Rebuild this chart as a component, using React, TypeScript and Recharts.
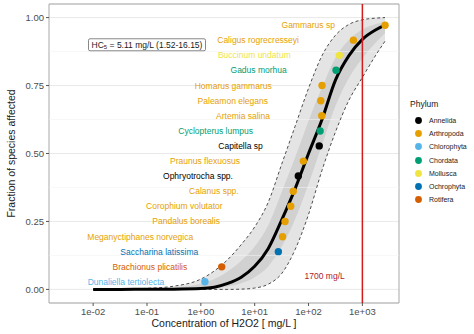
import React from "react";
import {
  ComposedChart,
  Area,
  Line,
  Scatter,
  XAxis,
  YAxis,
  CartesianGrid,
  ReferenceLine,
  ReferenceArea,
  ReferenceDot,
} from "recharts";

// species sorted from most to least sensitive (bottom to top of the curve)
const species = [
  "Dunaliella tertiolecta",
  "Brachionus plicatilis",
  "Saccharina latissima",
  "Meganyctiphanes norvegica",
  "Pandalus borealis",
  "Corophium volutator",
  "Calanus spp.",
  "Ophryotrocha spp.",
  "Praunus flexuosus",
  "Capitella sp",
  "Cyclopterus lumpus",
  "Artemia salina",
  "Paleamon elegans",
  "Homarus gammarus",
  "Gadus morhua",
  "Buccinum undatum",
  "Caligus rogrecresseyi",
  "Gammarus sp",
];
const phylumOf = [
  "Chlorophyta",
  "Rotifera",
  "Ochrophyta",
  "Arthropoda",
  "Arthropoda",
  "Arthropoda",
  "Arthropoda",
  "Annelida",
  "Arthropoda",
  "Annelida",
  "Chordata",
  "Arthropoda",
  "Arthropoda",
  "Arthropoda",
  "Chordata",
  "Mollusca",
  "Arthropoda",
  "Arthropoda",
];
// toxicity value per species, mg/L
const toxicity = [1.19, 2.44, 27.5, 33, 36.6, 46.7, 52, 64.6, 80, 158, 164, 176, 169, 178, 324, 373, 681, 2640];
const fraction = [0.028, 0.083, 0.139, 0.194, 0.25, 0.306, 0.361, 0.417, 0.472, 0.528, 0.583, 0.639, 0.694, 0.75, 0.806, 0.861, 0.917, 0.972];
// where each species name ends (mg/L)
const labelAt = [0.209, 0.558, 0.895, 0.72, 2.26, 2.54, 5.05, 3.95, 5.33, 14.1, 9.3, 19.2, 17.7, 20.7, 39.4, 46.7, 66.5, 309];

const phyla = ["Annelida", "Arthropoda", "Chlorophyta", "Chordata", "Mollusca", "Ochrophyta", "Rotifera"];
const phylumColors = ["#000000", "#E69F00", "#56B4E9", "#009E73", "#F0E442", "#0072B2", "#D55E00"];

const curveExp = [-2, -1.5, -1, -0.5, 0, 0.25, 0.5, 0.75, 1, 1.25, 1.5, 1.75, 2, 2.25, 2.5, 2.75, 3, 3.25, 3.42];
const fitted = [0, 0, 0.0005, 0.001, 0.003, 0.008, 0.022, 0.045, 0.085, 0.15, 0.255, 0.37, 0.5, 0.625, 0.77, 0.86, 0.92, 0.955, 0.972];
const upperBand = [0, 0.001, 0.004, 0.012, 0.038, 0.068, 0.11, 0.165, 0.23, 0.32, 0.46, 0.6, 0.74, 0.86, 0.935, 0.975, 0.992, 0.998, 1.0];
const lowerBand = [0, 0, 0, 0, 0, 0, 0, 0.001, 0.005, 0.019, 0.058, 0.146, 0.276, 0.438, 0.579, 0.696, 0.78, 0.862, 0.913];

const xTicks = [-2, -1, 0, 1, 2, 3];
const yTicks = [0, 0.25, 0.5, 0.75, 1];
const yMinor = [0.125, 0.375, 0.625, 0.875];
const limitConc = 1000;

const FONT = "'Liberation Sans', Arial, sans-serif";
const X_DOMAIN: [number, number] = [-2.82, 3.68];
const Y_DOMAIN: [number, number] = [-0.05, 1.05];

// the darker core of the band is only shading, halfway between band edge and fit
const curveRows = curveExp.map((lx, i) => ({
  lx,
  fit: fitted[i],
  upper: upperBand[i],
  lower: lowerBand[i],
  coreLo: (lowerBand[i] + fitted[i]) / 2,
  coreHi: (upperBand[i] + fitted[i]) / 2,
}));

const pointRows = species.map((name, i) => ({
  name,
  lx: Math.log10(toxicity[i]),
  F: fraction[i],
  color: phylumColors[phyla.indexOf(phylumOf[i])],
}));

const labelRows = species.map((name, i) => ({
  name,
  lx: Math.log10(labelAt[i]),
  F: fraction[i],
  color: phylumColors[phyla.indexOf(phylumOf[i])],
}));

const fmtExp = (v: number) => `1e${v < 0 ? "-" : "+"}${String(Math.abs(v)).padStart(2, "0")}`;

const YLabel = (props: any) => {
  const vb = props.viewBox || { x: 0, y: 0, width: 0, height: 0 };
  const cx = 11;
  const cy = vb.y + vb.height / 2;
  return (
    <text x={cx} y={cy} transform={`rotate(-90 ${cx} ${cy})`} textAnchor="middle" dominantBaseline="central" fontSize={10.5} fill="#1a1a1a" fontFamily={FONT}>
      Fraction of species affected
    </text>
  );
};

const XLabel = (props: any) => {
  const vb = props.viewBox || { x: 0, y: 0, width: 0, height: 0 };
  return (
    <text x={vb.x + vb.width / 2} y={vb.y + 20} textAnchor="middle" dominantBaseline="central" fontSize={10.5} fill="#1a1a1a" fontFamily={FONT}>
      Concentration of H2O2 [ mg/L ]
    </text>
  );
};

const Dot = (p: any) => <circle cx={p.cx} cy={p.cy} r={3.7} fill={p.payload.color} />;

const SpeciesLabel = (p: any) => (
  <text x={p.cx} y={p.cy} textAnchor="end" dominantBaseline="central" fontSize={8.5} fill={p.payload.color} fontFamily={FONT}>
    {p.payload.name}
  </text>
);

const HcBox = (p: any) => (
  <g>
    <rect x={p.cx - 58.5} y={p.cy - 6} width={117} height={12} rx={1.5} fill="#fff" stroke="#555" strokeWidth={0.7} />
    <text x={p.cx} y={p.cy + 0.5} textAnchor="middle" dominantBaseline="central" fontSize={8.5} fill="#1a1a1a" fontFamily={FONT}>
      <tspan>HC</tspan>
      <tspan fontSize={6} dy={2}>5</tspan>
      <tspan dy={-2}> = 5.11 mg/L (1.52-16.15)</tspan>
    </text>
  </g>
);

const LimitText = (p: any) => (
  <text x={p.cx} y={p.cy} textAnchor="middle" dominantBaseline="central" fontSize={8.5} fill="#b2182b" fontFamily={FONT}>
    1700 mg/L
  </text>
);

export default function App() {
  return (
    <div style={{ position: "absolute", left: 0, top: 0, width: 474, height: 334, background: "#fff", fontFamily: FONT }}>
      <ComposedChart width={474} height={334} data={curveRows} margin={{ top: 4, right: 75, bottom: 0, left: 0 }}>
        <CartesianGrid vertical={false} stroke="#e3e3e3" strokeWidth={0.8} />
        {yMinor.map((v) => (
          <ReferenceLine key={v} y={v} stroke="#f1f1f1" strokeWidth={0.6} />
        ))}
        <XAxis
          dataKey="lx"
          type="number"
          domain={X_DOMAIN}
          allowDataOverflow
          ticks={xTicks}
          tickFormatter={fmtExp}
          height={31}
          axisLine={false}
          tickSize={3}
          tickLine={{ stroke: "#555" }}
          tick={{ fontSize: 9.5, fill: "#4d4d4d", fontFamily: FONT }}
          label={<XLabel />}
        />
        <YAxis
          type="number"
          domain={Y_DOMAIN}
          allowDataOverflow
          ticks={yTicks}
          tickFormatter={(v: number) => v.toFixed(2)}
          width={49}
          axisLine={false}
          tickSize={3}
          tickLine={{ stroke: "#555" }}
          tick={{ fontSize: 9.5, fill: "#4d4d4d", fontFamily: FONT }}
          label={<YLabel />}
        />
        <Area
          dataKey={(d: any) => [d.lower, d.upper]}
          type="monotone"
          stroke="none"
          fill="#e4e4e4"
          fillOpacity={1}
          isAnimationActive={false}
        />
        <Area
          dataKey={(d: any) => [d.coreLo, d.coreHi]}
          type="monotone"
          stroke="none"
          fill="#c4c4c4"
          fillOpacity={0.6}
          isAnimationActive={false}
        />
        <Line dataKey="upper" type="monotone" stroke="#222" strokeWidth={0.8} strokeDasharray="3 2.5" dot={false} isAnimationActive={false} />
        <Line dataKey="lower" type="monotone" stroke="#222" strokeWidth={0.8} strokeDasharray="3 2.5" dot={false} isAnimationActive={false} />
        <Line dataKey="fit" type="monotone" stroke="#000" strokeWidth={3} dot={false} isAnimationActive={false} />
        <Scatter data={pointRows} dataKey="F" shape={<Dot />} isAnimationActive={false} />
        <Scatter data={labelRows} dataKey="F" shape={<SpeciesLabel />} isAnimationActive={false} />
        <ReferenceLine x={Math.log10(limitConc)} stroke="#d01c1c" strokeWidth={1.5} />
        <ReferenceDot x={-1} y={0.9} r={0} shape={<HcBox />} />
        <ReferenceDot x={2.3} y={0.05} r={0} shape={<LimitText />} />
        <ReferenceArea x1={X_DOMAIN[0]} x2={X_DOMAIN[1]} y1={Y_DOMAIN[0]} y2={Y_DOMAIN[1]} fill="none" stroke="#a8a8a8" strokeWidth={1} />
      </ComposedChart>
      <div style={{ position: "absolute", left: 410, top: 99, fontSize: 8.5, color: "#1a1a1a" }}>Phylum</div>
      {phyla.map((p, i) => (
        <div key={p} style={{ position: "absolute", left: 414, top: 120.7 + i * 13.1 - 6, height: 12, display: "flex", alignItems: "center" }}>
          <svg width={9} height={9} style={{ display: "block" }}>
            <circle cx={4.5} cy={4.5} r={3.4} fill={phylumColors[i]} />
          </svg>
          <span style={{ marginLeft: 6, fontSize: 7, color: "#1a1a1a" }}>{p}</span>
        </div>
      ))}
    </div>
  );
}
